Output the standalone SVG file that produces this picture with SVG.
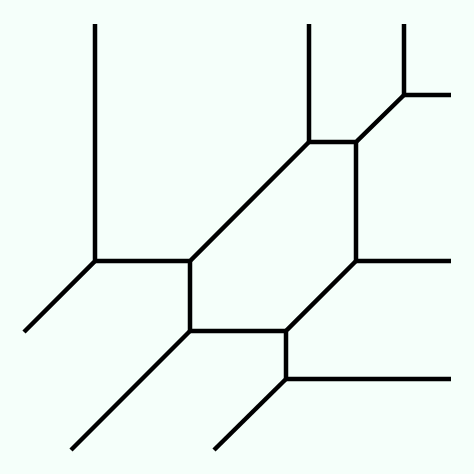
<svg xmlns="http://www.w3.org/2000/svg" width="474" height="474" viewBox="0 0 474 474">
<style>
.e{fill:none;stroke:#000;stroke-width:4.5;stroke-linecap:butt;stroke-linejoin:miter}
</style>
<rect width="474" height="474" fill="#f5fffa"/>
<g id="connectors">
<path class="e" d="M95,24V261L24,332"/>
<path class="e" d="M95,261H190L309,142"/>
<path class="e" d="M309,24V142H356L404,95"/>
<path class="e" d="M404,24V95H451"/>
<path class="e" d="M190,261V331H286"/>
<path class="e" d="M356,142V261H451"/>
<path class="e" d="M356,261L286,331V379H451"/>
<path class="e" d="M190,331L71,450"/>
<path class="e" d="M286,379L214,450"/>
</g>
</svg>
